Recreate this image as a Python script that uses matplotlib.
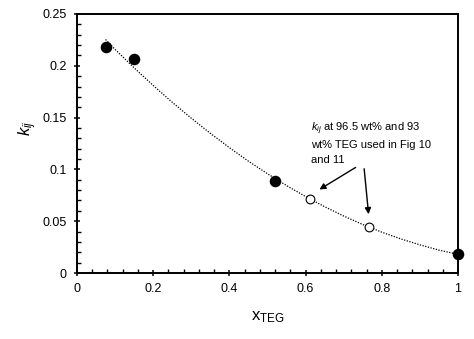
import matplotlib.pyplot as plt
from matplotlib.ticker import MultipleLocator

plt.rcParams['font.family'] = ['Liberation Sans', 'DejaVu Sans']
plt.rcParams['mathtext.fontset'] = 'custom'
plt.rcParams['mathtext.rm'] = 'Liberation Sans'
plt.rcParams['mathtext.it'] = 'Liberation Sans:italic'

# fitted kij values (filled) and the two values used later (open)
x_fit = [0.075, 0.15, 0.52, 1.0]
k_fit = [0.218, 0.207, 0.089, 0.018]
x_used = [0.612, 0.767]
k_used = [0.0714, 0.0447]

# dotted trend line
x_trend = [0.075, 0.10, 0.15, 0.20, 0.25, 0.30, 0.35, 0.40, 0.45, 0.50,
           0.55, 0.60, 0.65, 0.70, 0.75, 0.80, 0.85, 0.90, 0.95, 1.0]
k_trend = [0.2254, 0.2158, 0.1980, 0.1810, 0.1648, 0.1494, 0.1348, 0.1210,
           0.1079, 0.0958, 0.0844, 0.0738, 0.0640, 0.0550, 0.0468, 0.0394,
           0.0329, 0.0272, 0.0221, 0.018]

x_ticks = [0, 0.2, 0.4, 0.6, 0.8, 1.0]
x_ticklabels = ['0', '0.2', '0.4', '0.6', '0.8', '1']
y_ticks = [0, 0.05, 0.1, 0.15, 0.2, 0.25]
y_ticklabels = ['0', '0.05', '0.1', '0.15', '0.2', '0.25']

note_lines = ['$k_{ij}$ at 96.5 wt% and 93', 'wt% TEG used in Fig 10', 'and 11']

fig = plt.figure(figsize=(4.74, 3.39), dpi=100)
ax = fig.add_axes([77 / 474, 1 - 273 / 339, 381 / 474, 259 / 339])

ax.plot(x_trend, k_trend, color='black', linestyle=(0, (1, 1.2)), linewidth=0.9, zorder=2)
ax.plot(x_fit, k_fit, 'o', color='black', markersize=7.3, zorder=3, clip_on=False)
ax.plot(x_used, k_used, 'o', markerfacecolor='white', markeredgecolor='black',
        markeredgewidth=0.8, markersize=6.3, zorder=3)

for i, line in enumerate(note_lines):
    ax.text(0.614, 0.1390 - i * 0.015, line, fontsize=8, va='center', ha='left')
ax.annotate('', xy=(0.630, 0.0792), xytext=(0.7375, 0.1033),
            arrowprops=dict(arrowstyle='-|>', color='black', lw=1.0, mutation_scale=9))
ax.annotate('', xy=(0.766, 0.0541), xytext=(0.753, 0.1033),
            arrowprops=dict(arrowstyle='-|>', color='black', lw=1.0, mutation_scale=9))

ax.set_xlim(0, 1)
ax.set_ylim(0, 0.25)
ax.set_xticks(x_ticks)
ax.set_xticklabels(x_ticklabels)
ax.set_yticks(y_ticks)
ax.set_yticklabels(y_ticklabels)
ax.xaxis.set_minor_locator(MultipleLocator(0.04))
ax.yaxis.set_minor_locator(MultipleLocator(0.01))
ax.tick_params(which='major', direction='inout', length=5, width=1.1, labelsize=9, pad=5)
ax.tick_params(which='minor', direction='in', length=3, width=1.0)

for s in ax.spines.values():
    s.set_linewidth(1.4)

ax.set_xlabel('x$_{\\mathrm{TEG}}$', fontsize=12, labelpad=10)
ax.set_ylabel('$k_{ij}$', fontsize=12)
ax.yaxis.set_label_coords(-0.10, 0.56)

fig.savefig('out.png', dpi=100)
